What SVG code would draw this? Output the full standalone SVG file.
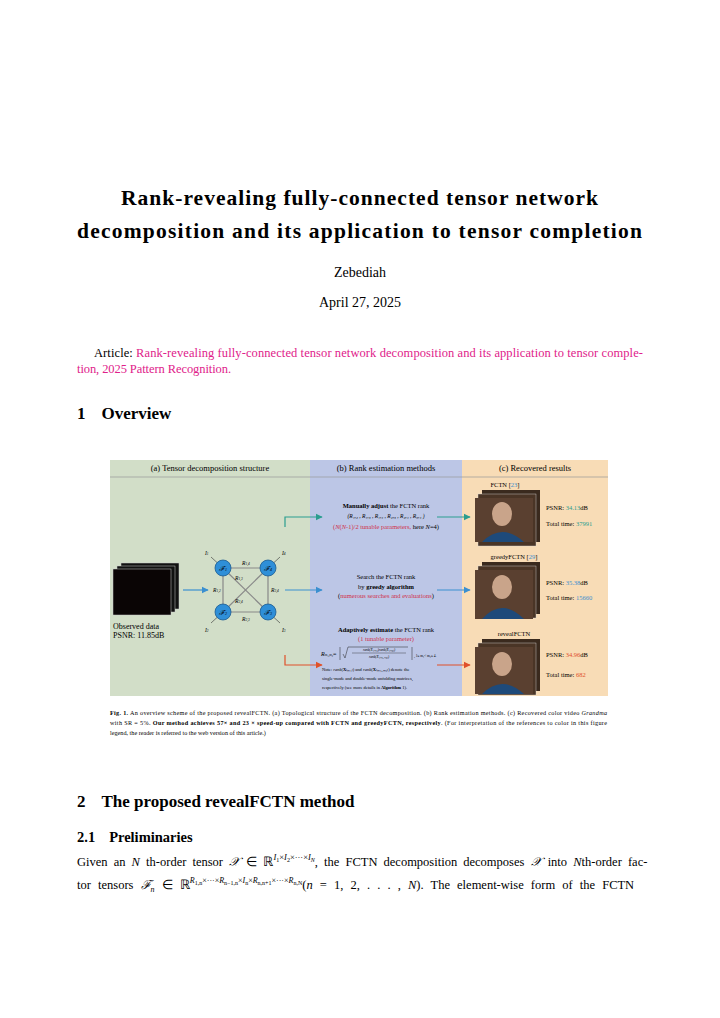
<svg xmlns="http://www.w3.org/2000/svg" width="720" height="1018" viewBox="0 0 720 1018">
<defs>
<style>
.s{font-family:"Liberation Serif",serif;fill:#000}
.b{font-weight:bold}
.i{font-style:italic}
.mag{fill:#e0218a}
.red{fill:#d0304a}
.tl{fill:#2a9d8f}
.bl{fill:#3a8fd0}
.or{fill:#e0502a}
.edge{stroke:#888;stroke-width:1.2;fill:none}
.node{fill:#2f8fd8;stroke:#1a5a90;stroke-width:0.8}
</style>
<marker id="mt" viewBox="0 0 10 10" refX="9" refY="5" markerWidth="6" markerHeight="6" orient="auto"><path d="M0,0L10,5L0,10z" fill="#2a9d8f"/></marker>
<marker id="mb" viewBox="0 0 10 10" refX="9" refY="5" markerWidth="6" markerHeight="6" orient="auto"><path d="M0,0L10,5L0,10z" fill="#3a8fd0"/></marker>
<marker id="mr" viewBox="0 0 10 10" refX="9" refY="5" markerWidth="6" markerHeight="6" orient="auto"><path d="M0,0L10,5L0,10z" fill="#e0502a"/></marker>
</defs>
<rect width="720" height="1018" fill="#fff"/>
<g id="page-text">
<text class="s b" x="121" y="205" font-size="21.5" textLength="477" lengthAdjust="spacing">Rank-revealing fully-connected tensor network</text>
<text class="s b" x="77" y="238" font-size="21.5" textLength="565" lengthAdjust="spacing">decomposition and its application to tensor completion</text>
<text class="s" x="360" y="277" font-size="14" text-anchor="middle">Zebediah</text>
<text class="s" x="360" y="307" font-size="14" text-anchor="middle">April 27, 2025</text>
<text class="s" x="94" y="357" font-size="12.5" textLength="549" lengthAdjust="spacing">Article: <tspan class="mag">Rank-revealing fully-connected tensor network decomposition and its application to tensor comple-</tspan></text>
<text class="s mag" x="77" y="373" font-size="12.5" textLength="154" lengthAdjust="spacing">tion, 2025 Pattern Recognition.</text>
<text class="s b" x="77" y="419" font-size="17">1<tspan dx="16">Overview</tspan></text>
<text class="s b" x="77" y="807" font-size="17">2<tspan dx="16">The proposed revealFCTN method</tspan></text>
<text class="s b" x="77" y="842" font-size="14.5">2.1<tspan dx="14">Preliminaries</tspan></text>
<text class="s" x="77" y="866" font-size="12.5" word-spacing="3">Given an <tspan class="i">N</tspan> th-order tensor <tspan class="i">𝒳</tspan> ∈ ℝ<tspan class="i" font-size="8.5" dy="-6">I</tspan><tspan font-size="6" dy="2">1</tspan><tspan font-size="8.5" dy="-2">×</tspan><tspan class="i" font-size="8.5">I</tspan><tspan font-size="6" dy="2">2</tspan><tspan font-size="8.5" dy="-2">×···×</tspan><tspan class="i" font-size="8.5">I</tspan><tspan class="i" font-size="6" dy="2">N</tspan><tspan dy="4">, the FCTN decomposition decomposes </tspan><tspan class="i">𝒳</tspan> into <tspan class="i">N</tspan>th-order fac-</text>
<text class="s" x="77" y="889" font-size="12.5" word-spacing="4">tor tensors <tspan class="i">ℱ</tspan><tspan class="i" font-size="8" dy="3">n</tspan><tspan dy="-3"> ∈ ℝ</tspan><tspan class="i" font-size="8" dy="-6">R</tspan><tspan font-size="6" dy="2">1,n</tspan><tspan font-size="8" dy="-2">×···×</tspan><tspan class="i" font-size="8">R</tspan><tspan font-size="6" dy="2">n−1,n</tspan><tspan font-size="8" dy="-2">×</tspan><tspan class="i" font-size="8">I</tspan><tspan font-size="6" dy="2">n</tspan><tspan font-size="8" dy="-2">×</tspan><tspan class="i" font-size="8">R</tspan><tspan font-size="6" dy="2">n,n+1</tspan><tspan font-size="8" dy="-2">×···×</tspan><tspan class="i" font-size="8">R</tspan><tspan font-size="6" dy="2">n,N</tspan><tspan dy="4">(</tspan><tspan class="i">n</tspan> = 1, 2, . . . , <tspan class="i">N</tspan>).  The element-wise form of the FCTN</text>
</g>
<g id="figure">
<rect x="110" y="460" width="200" height="236" fill="#d2dec8"/>
<rect x="310" y="460" width="152" height="236" fill="#bcc6e6"/>
<rect x="462" y="460" width="146" height="236" fill="#f8dcb6"/>
<line x1="110" y1="477" x2="608" y2="477" stroke="#999" stroke-width="0.7"/>
<text class="s" x="210" y="471" font-size="8.5" text-anchor="middle">(a) Tensor decomposition structure</text>
<text class="s" x="386" y="471" font-size="8.5" text-anchor="middle">(b) Rank estimation methods</text>
<text class="s" x="535" y="471" font-size="8.5" text-anchor="middle">(c) Recovered results</text>
</g>
<g id="observed">
<rect x="121" y="563" width="58" height="46" fill="#111" stroke="#ccc" stroke-width="0.5"/>
<rect x="117" y="566" width="58" height="46" fill="#111" stroke="#ccc" stroke-width="0.5"/>
<rect x="113" y="569" width="58" height="46" fill="#0a0505" stroke="#ccc" stroke-width="0.5"/>
<text class="s" x="113" y="629" font-size="8">Observed data</text>
<text class="s" x="113" y="638" font-size="8">PSNR: 11.85dB</text>
</g>
<g id="connectors">
<line x1="183" y1="590" x2="208" y2="590" stroke="#3a8fd0" stroke-width="1.2" marker-end="url(#mb)"/>
<line class="edge" x1="223" y1="568" x2="268" y2="568"/>
<line class="edge" x1="223" y1="612" x2="268" y2="612"/>
<line class="edge" x1="223" y1="568" x2="223" y2="612"/>
<line class="edge" x1="268" y1="568" x2="268" y2="612"/>
<line class="edge" x1="223" y1="568" x2="268" y2="612"/>
<line class="edge" x1="268" y1="568" x2="223" y2="612"/>
<line x1="223" y1="568" x2="211" y2="557" stroke="#333" stroke-width="0.6"/>
<line x1="268" y1="568" x2="280" y2="557" stroke="#333" stroke-width="0.6"/>
<line x1="223" y1="612" x2="211" y2="623" stroke="#333" stroke-width="0.6"/>
<line x1="268" y1="612" x2="280" y2="623" stroke="#333" stroke-width="0.6"/>
<polyline points="285,527 285,517 322,517" fill="none" stroke="#2a9d8f" stroke-width="1.2" marker-end="url(#mt)"/>
<line x1="285" y1="590" x2="322" y2="590" stroke="#3a8fd0" stroke-width="1.2" marker-end="url(#mb)"/>
<polyline points="285,655 285,665 322,665" fill="none" stroke="#e0502a" stroke-width="1.2" marker-end="url(#mr)"/>
<line x1="437" y1="517" x2="470" y2="517" stroke="#2a9d8f" stroke-width="1.2" marker-end="url(#mt)"/>
<line x1="437" y1="590" x2="470" y2="590" stroke="#3a8fd0" stroke-width="1.2" marker-end="url(#mb)"/>
<line x1="437" y1="665" x2="470" y2="665" stroke="#e0502a" stroke-width="1.2" marker-end="url(#mr)"/>
</g>
<g id="network-labels" class="s i" font-size="5.5">
<text x="205" y="555">I<tspan font-size="3.5">1</tspan></text>
<text x="282" y="555">I<tspan font-size="3.5">4</tspan></text>
<text x="205" y="632">I<tspan font-size="3.5">2</tspan></text>
<text x="282" y="632">I<tspan font-size="3.5">3</tspan></text>
<text x="242" y="565">R<tspan font-size="3.5">1,4</tspan></text>
<text x="242" y="621">R<tspan font-size="3.5">2,3</tspan></text>
<text x="213" y="592">R<tspan font-size="3.5">1,2</tspan></text>
<text x="271" y="592">R<tspan font-size="3.5">3,4</tspan></text>
<text x="235" y="580">R<tspan font-size="3.5">1,3</tspan></text>
<text x="235" y="603">R<tspan font-size="3.5">2,4</tspan></text>
</g>
<g id="node-F1"><circle class="node" cx="223" cy="568" r="8"/><text class="s i" x="223" y="571" font-size="7" text-anchor="middle">ℱ<tspan font-size="4">1</tspan></text></g>
<g id="node-F4"><circle class="node" cx="268" cy="568" r="8"/><text class="s i" x="268" y="571" font-size="7" text-anchor="middle">ℱ<tspan font-size="4">4</tspan></text></g>
<g id="node-F2"><circle class="node" cx="223" cy="612" r="8"/><text class="s i" x="223" y="615" font-size="7" text-anchor="middle">ℱ<tspan font-size="4">2</tspan></text></g>
<g id="node-F3"><circle class="node" cx="268" cy="612" r="8"/><text class="s i" x="268" y="615" font-size="7" text-anchor="middle">ℱ<tspan font-size="4">3</tspan></text></g>
<g id="method-manual" class="s" text-anchor="middle">
<text x="386" y="508" font-size="6.5"><tspan class="b">Manually adjust</tspan> the FCTN rank</text>
<text x="386" y="518" font-size="5.5" class="i">(R₁,₂ , R₁,₃ , R₁,₄ , R₂,₃ , R₂,₄ , R₃,₄ )</text>
<text x="386" y="529" font-size="6.5"><tspan class="red">(<tspan class="i">N</tspan>(<tspan class="i">N</tspan>-1)/2 tunable parameters,</tspan> here <tspan class="i">N</tspan>=4)</text>
</g>
<g id="method-greedy" class="s" text-anchor="middle" font-size="6.5">
<text x="386" y="579">Search the FCTN rank</text>
<text x="386" y="589">by <tspan class="b">greedy algorithm</tspan></text>
<text x="386" y="598"><tspan>(</tspan><tspan class="red">numerous searches and evaluations</tspan>)</text>
</g>
<g id="method-adaptive" class="s">
<text x="386" y="632" font-size="6.5" text-anchor="middle"><tspan class="b">Adaptively estimate</tspan> the FCTN rank</text>
<text x="386" y="641" font-size="6.5" text-anchor="middle" class="red">(1 tunable parameter)</text>
<text x="321" y="656" font-size="6" class="i">R<tspan font-size="3.5">m₁,m₂</tspan><tspan font-style="normal">=</tspan></text>
<path d="M340,647 v13 M412,647 v13 M343,654 l2,4 l3,-11 h60" fill="none" stroke="#222" stroke-width="0.5"/>
<line x1="352" y1="653" x2="406" y2="653" stroke="#222" stroke-width="0.4"/>
<text x="379" y="651" font-size="3.5" text-anchor="middle" class="i">rank(X₍ₘ₁₎)rank(X₍ₘ₂₎)</text>
<text x="379" y="658" font-size="3.5" text-anchor="middle" class="i">rank(X₍ₘ₁,ₘ₂₎)</text>
<text x="414" y="657" font-size="3.5">, 1≤ m₁&lt; m₂≤ 4.</text>
<text x="322" y="671" font-size="4.5">Note: <tspan class="i">rank</tspan>(<tspan class="b">X</tspan>₍ₘ₁₎) and <tspan class="i">rank</tspan>(<tspan class="b">X</tspan>₍ₘ₁,ₘ₂₎) denote the</text>
<text x="322" y="680" font-size="4.5">single-mode and double-mode unfolding matrices,</text>
<text x="322" y="689" font-size="4.5">respectively (see more details in <tspan class="b">Algorithm</tspan> 1).</text>
</g>
<g id="result-fctn" class="s">
<text x="505" y="487" font-size="6.5" text-anchor="middle">FCTN [<tspan class="bl">23</tspan>]</text>
<rect x="482" y="490" width="58" height="52" fill="#3a2a1e"/>
<rect x="478" y="494" width="58" height="52" fill="#4a3526" stroke="#ddd" stroke-width="0.4"/>
<rect x="475" y="498" width="58" height="44" fill="#5a4030"/>
<ellipse cx="502" cy="514" rx="10" ry="12" fill="#c9a48a"/>
<path d="M482,542 Q502,522 524,542 Z" fill="#1e4a7a"/>
<text x="546" y="510" font-size="6.5">PSNR: <tspan class="tl">34.13</tspan>dB</text>
<text x="546" y="526" font-size="6.5">Total time: <tspan class="tl">37991</tspan></text>
</g>
<g id="result-greedy" class="s">
<text x="514" y="559" font-size="6.5" text-anchor="middle">greedyFCTN [<tspan class="bl">29</tspan>]</text>
<rect x="482" y="562" width="58" height="52" fill="#3a2a1e"/>
<rect x="478" y="566" width="58" height="52" fill="#4a3526" stroke="#ddd" stroke-width="0.4"/>
<rect x="475" y="570" width="58" height="49" fill="#5a4030"/>
<ellipse cx="502" cy="587" rx="10" ry="12" fill="#c9a48a"/>
<path d="M482,619 Q502,597 524,619 Z" fill="#1e4a7a"/>
<text x="546" y="585" font-size="6.5">PSNR: <tspan class="bl">35.38</tspan>dB</text>
<text x="546" y="600" font-size="6.5">Total time: <tspan class="bl">15660</tspan></text>
</g>
<g id="result-reveal" class="s">
<text x="514" y="636" font-size="6.5" text-anchor="middle">revealFCTN</text>
<rect x="482" y="639" width="58" height="52" fill="#3a2a1e"/>
<rect x="478" y="643" width="58" height="52" fill="#4a3526" stroke="#ddd" stroke-width="0.4"/>
<rect x="475" y="647" width="58" height="47" fill="#5a4030"/>
<ellipse cx="502" cy="664" rx="10" ry="12" fill="#c9a48a"/>
<path d="M482,694 Q502,674 524,694 Z" fill="#1e4a7a"/>
<text x="546" y="657" font-size="6.5">PSNR: <tspan class="or">34.96</tspan>dB</text>
<text x="546" y="677" font-size="6.5">Total time: <tspan class="or">682</tspan></text>
</g>
<g id="caption" class="s" font-size="6.2">
<text x="110" y="715" textLength="497" lengthAdjust="spacing"><tspan class="b">Fig. 1.</tspan> An overview scheme of the proposed revealFCTN. (a) Topological structure of the FCTN decomposition. (b) Rank estimation methods. (c) Recovered color video <tspan class="i">Grandma</tspan></text>
<text x="110" y="725" textLength="497" lengthAdjust="spacing">with SR = 5%. <tspan class="b">Our method achieves 57× and 23 × speed-up compared with FCTN and greedyFCTN, respectively</tspan>.  (For interpretation of the references to color in this figure</text>
<text x="110" y="735">legend, the reader is referred to the web version of this article.)</text>
</g>
</svg>
